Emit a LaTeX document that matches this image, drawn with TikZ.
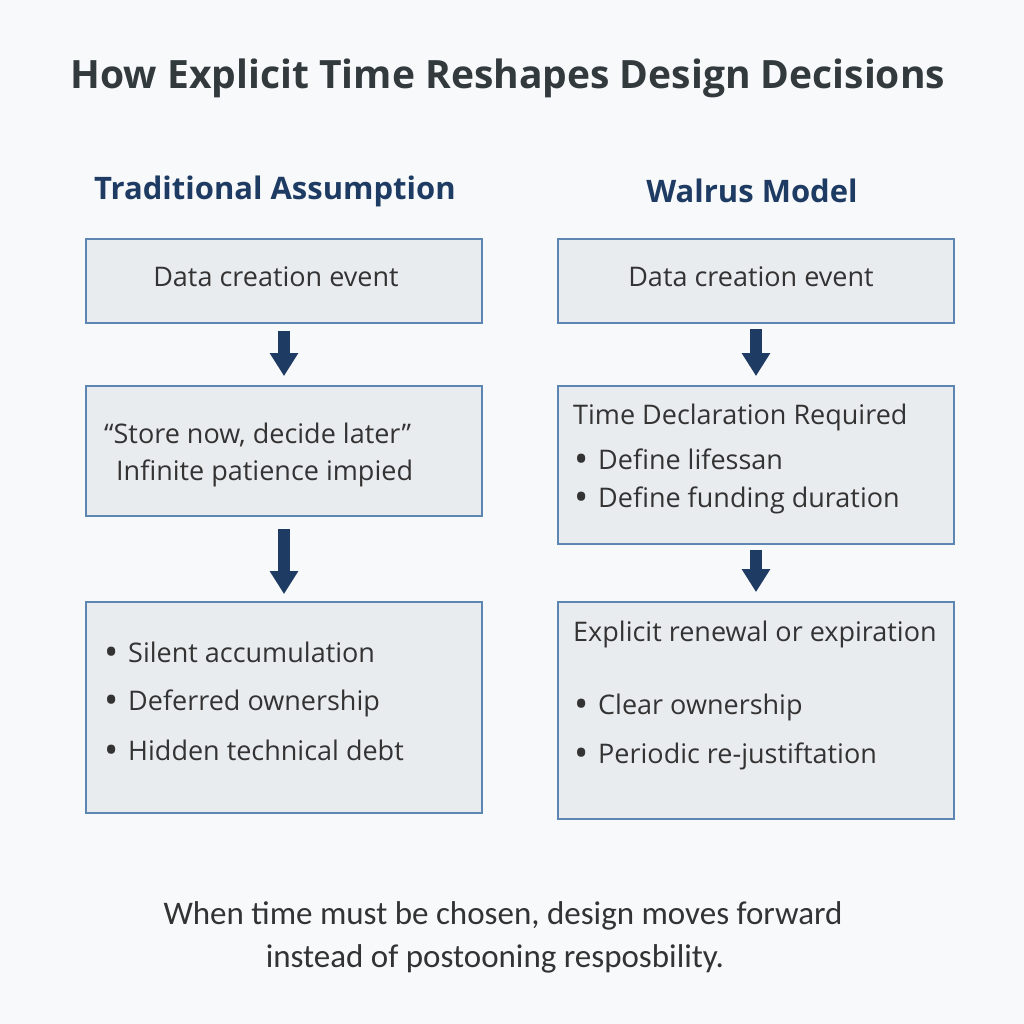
\documentclass[tikz,border=0pt]{standalone}
\usepackage{fontspec}
\setmainfont{Open Sans}
\newfontfamily\footfont{Carlito}
\usetikzlibrary{arrows.meta}
\definecolor{bg}{HTML}{F8F9FA}
\definecolor{boxfill}{HTML}{E9ECEF}
\definecolor{boxline}{HTML}{5E86B3}
\definecolor{navy}{HTML}{1E3C63}
\definecolor{txt}{HTML}{333333}
\definecolor{ttl}{HTML}{333A3D}
\newcommand{\bul}{\llap{\raisebox{-3pt}{\scalebox{1.4}{\textbullet}}\hspace{9pt}}}
\tikzset{
  box/.style={draw=boxline, line width=1.8pt, fill=boxfill},
  flow/.style={navy, line width=12pt, -{Triangle[width=27pt,length=23pt]}},
  btxt/.style={text=txt, font=\fontsize{27}{32}\selectfont, inner sep=0pt},
  head/.style={text=navy, font=\fontsize{31}{36}\selectfont\bfseries, inner sep=0pt},
  foot/.style={text=txt, font=\footfont\fontsize{33}{38}\selectfont, inner sep=0pt},
}
\begin{document}
\begin{tikzpicture}[x=1pt,y=-1pt]
\useasboundingbox (0,0) rectangle (1024,1024);
\fill[bg] (0,0) rectangle (1024,1024);
\node[text=ttl, font=\fontsize{39}{44}\selectfont\bfseries, inner sep=0pt] (title) at (508,78) {How Explicit Time Reshapes Design Decisions};
\node[head] (hl) at (275,191) {Traditional Assumption};
\node[head] (hr) at (752,191) {Walrus Model};
% left boxes
\node[box, minimum width=396pt, minimum height=84pt] (L1) at (284,281) {};
\node[box, minimum width=396pt, minimum height=130pt] (L2) at (284,451) {};
\node[box, minimum width=396pt, minimum height=211pt] (L3) at (284,707.5) {};
% right boxes
\node[box, minimum width=396pt, minimum height=84pt] (R1) at (756,281) {};
\node[box, minimum width=396pt, minimum height=158pt] (R2) at (756,465) {};
\node[box, minimum width=396pt, minimum height=217pt] (R3) at (756,710.5) {};
% texts
\node[btxt] (l1t) at (276,277) {Data creation event};
\node[btxt, anchor=west] (l2a) at (104,435) {“Store now, decide later”};
\node[btxt, anchor=west] (l2b) at (116,473) {Infinite patience impied};
\node[btxt, anchor=west] (l3a) at (128,654) {\bul Silent accumulation};
\node[btxt, anchor=west] (l3b) at (128,703) {\bul Deferred ownership};
\node[btxt, anchor=west] (l3c) at (128,752) {\bul Hidden technical debt};
\node[btxt] (r1t) at (751,277) {Data creation event};
\node[btxt, anchor=west] (r2a) at (573,417) {Time Declaration Required};
\node[btxt, anchor=west] (r2b) at (598,461) {\bul Define lifessan};
\node[btxt, anchor=west] (r2c) at (598,500) {\bul Define funding duration};
\node[btxt, anchor=west] (r3a) at (573,634) {Explicit renewal or expiration};
\node[btxt, anchor=west] (r3b) at (598,707) {\bul Clear ownership};
\node[btxt, anchor=west] (r3c) at (598,756) {\bul Periodic re-justiftation};
% footer
\node[foot] (f1) at (503,916) {When time must be chosen, design moves forward};
\node[foot] (f2) at (495,959) {instead of postooning resposbility.};
% arrows
\draw[flow, shorten <=7pt, shorten >=9pt] (L1) -- (L2);
\draw[flow, shorten <=12pt, shorten >=7pt] (L2) -- (L3);
\draw[flow, shorten <=5pt, shorten >=9pt] (R1) -- (R2);
\draw[flow, shorten <=5pt, shorten >=9pt] (R2) -- (R3);
\end{tikzpicture}
\end{document}
